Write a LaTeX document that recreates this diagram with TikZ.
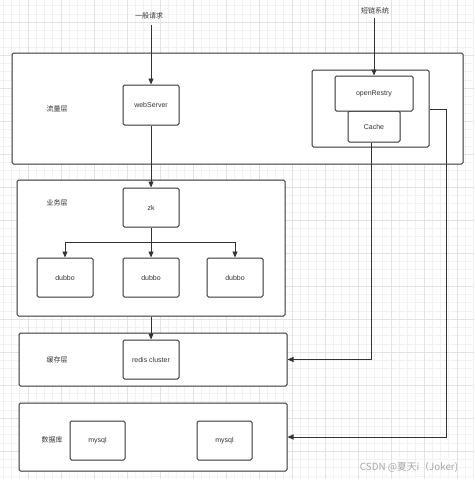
\documentclass[tikz,border=0pt]{standalone}
\usepackage{fontspec}
\setmainfont{Liberation Sans}
\newfontfamily\cjk{Noto Sans CJK SC}
\usetikzlibrary{arrows.meta,calc}
\definecolor{txt}{HTML}{333333}
\definecolor{edge}{HTML}{333333}
\begin{document}
\begin{tikzpicture}[x=1pt,y=-1pt,
  every node/.style={font=\fontsize{7}{8}\selectfont, text=txt},
  layer/.style={draw=edge, line width=1pt, fill=white, rounded corners=1.5pt, inner sep=0pt},
  box/.style={draw=edge, line width=1pt, fill=white, rounded corners=1.5pt, inner sep=0pt},
  conn/.style={draw=edge, line width=0.9pt, -{Triangle[length=6pt,width=5pt]}},
  plain/.style={draw=edge, line width=0.9pt},
  minorg/.style={draw=black!5, line width=0.4pt},
  majorg/.style={draw=black!11, line width=0.5pt}]
\useasboundingbox (0,0) rectangle (474,479);
\fill[white] (0,0) rectangle (474,479);
% grid
\foreach \i in {0,...,58} {\draw[minorg] ({-5.25+\i*8.25},0) -- ({-5.25+\i*8.25},479);}
\foreach \i in {0,...,59} {\draw[minorg] (0,{-2.75+\i*8.25}) -- (474,{-2.75+\i*8.25});}
\foreach \i in {0,...,15} {\draw[majorg] ({-5+\i*33},0) -- ({-5+\i*33},479);}
\foreach \i in {0,...,15} {\draw[majorg] (0,{-11+\i*33}) -- (474,{-11+\i*33});}

% layers
\node[layer, minimum width=451pt, minimum height=111pt] (traffic) at (237.5,108.5) {};
\node[layer, minimum width=268pt, minimum height=136pt] (biz) at (151,248) {};
\node[layer, minimum width=268pt, minimum height=53pt] (cachel) at (153,359.5) {};
\node[layer, minimum width=268pt, minimum height=68pt] (db) at (153,437) {};

\node (ltraffic) at (57,109) {\cjk 流量层};
\node (lbiz) at (57,203) {\cjk 业务层};
\node (lcache) at (57,360) {\cjk 缓存层};
\node (ldb) at (52,440) {\cjk 数据库};

% traffic layer
\node[box, minimum width=56pt, minimum height=40pt] (web) at (151,105) {webServer};
\node[box, minimum width=117pt, minimum height=77pt] (inner) at (370.5,108.5) {};
\node[box, minimum width=52pt, minimum height=31pt] (cache) at (374,126.5) {Cache};
\node[box, minimum width=78pt, minimum height=35pt] (open) at (374,93.5) {openRestry};

% business layer
\node[box, minimum width=56pt, minimum height=39pt] (zk) at (151,207.5) {zk};
\node[box, minimum width=56pt, minimum height=39pt] (d1) at (65,277.5) {dubbo};
\node[box, minimum width=56pt, minimum height=39pt] (d2) at (151,277.5) {dubbo};
\node[box, minimum width=56pt, minimum height=39pt] (d3) at (235,277.5) {dubbo};

% cache layer
\node[box, minimum width=56pt, minimum height=39pt] (redis) at (151,359.5) {redis cluster};

% db layer
\node[box, minimum width=55pt, minimum height=39pt] (m1) at (97.5,440.5) {mysql};
\node[box, minimum width=55pt, minimum height=39pt] (m2) at (224.5,440.5) {mysql};

% inputs
\node (req) at (149,16) {\cjk 一般请求};
\node (short) at (375,11) {\cjk 短链系统};
\coordinate (reqs) at (151,25);
\coordinate (shorts) at (374,18);
\draw[conn] (reqs) -- (web.north);
\draw[conn] (shorts) -- (open.north);

% flows
\draw[conn] (web.south) -- (zk.north);
\coordinate (br) at (151,242);
\draw[plain] (zk.south) -- (br);
\draw[conn] (br) -| (d1.north);
\draw[conn] (br) -- (d2.north);
\draw[conn] (br) -| (d3.north);
\draw[conn] (biz.south -| redis.north) -- (redis.north);

\coordinate (c1) at (446,109);
\coordinate (cs) at ($(cache.south)+(-3,0)$);
\draw[conn] (cs) |- (cachel.east);
\draw[conn] (inner.east |- c1) -- (c1) |- (db.east);

% watermark
\node[font=\cjk\fontsize{9.8}{11}\selectfont, text=black!35] (wm) at (409,467) {CSDN @夏天i（Joker)};
\end{tikzpicture}
\end{document}
